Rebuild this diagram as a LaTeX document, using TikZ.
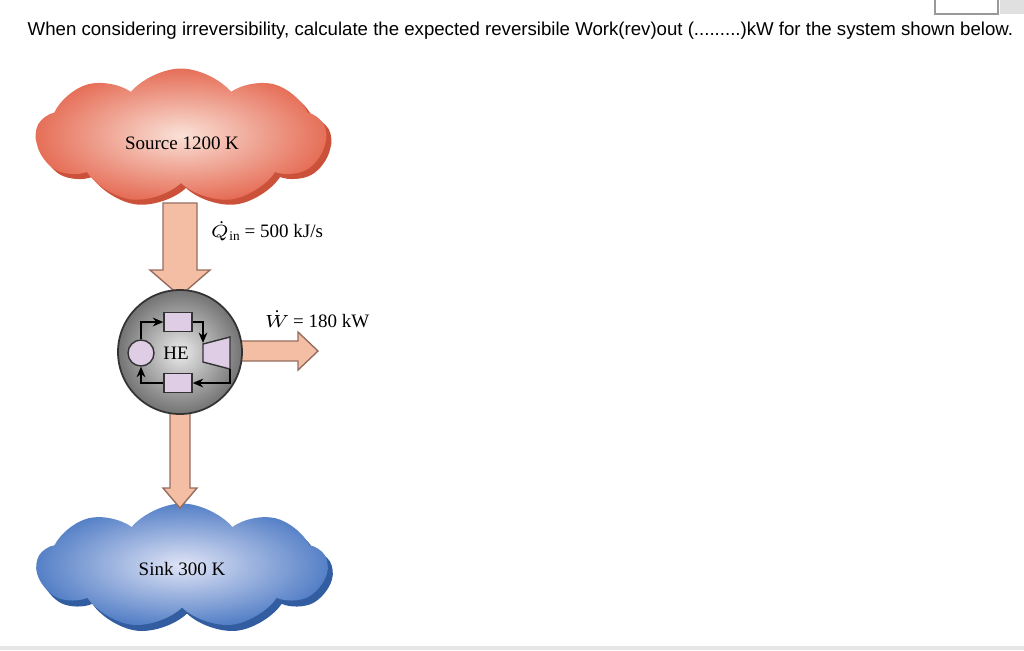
\documentclass[tikz,border=0pt]{standalone}
\usepackage{fontspec}
\setmainfont{Liberation Serif}
\newfontfamily\titlefont{Liberation Sans}
\usetikzlibrary{shapes.symbols,arrows.meta,shapes.arrows}
\definecolor{arr}{RGB}{244,190,165}
\definecolor{arredge}{RGB}{150,110,95}
\definecolor{hot}{RGB}{226,90,65}
\definecolor{hotin}{RGB}{250,225,215}
\definecolor{cold}{RGB}{60,110,190}
\definecolor{coldin}{RGB}{224,228,246}
\definecolor{part}{RGB}{222,205,228}
\newlength\un \setlength\un{0.01cm}
\tikzset{
 cl/.style={cloud, cloud puffs=9, cloud puff arc=100, aspect=2.4, minimum width=290\un, minimum height=135\un},
 partbox/.style={draw=black!80, fill=part, line width=0.4pt},
 flow/.style={draw=arredge, fill=arr, line width=0.4pt},
 thin/.style={-{Stealth[length=3pt,width=2.5pt]}, line width=0.4pt},
 lbl/.style={font=\fontsize{5.4}{6.5}\selectfont}
}
\begin{document}
\begin{tikzpicture}[x=0.01cm,y=-0.01cm]
\useasboundingbox (0,0) rectangle (1024,650);
\fill[white] (0,0) rectangle (1024,650);
% header fragment
\draw[black!40] (935,-2) rectangle (998,14);
\fill[black!12] (1000,-2) rectangle (1024,14);
\node[font=\titlefont\fontsize{5.3}{6.5}\selectfont, anchor=west, inner sep=0] (title) at (27,31) {When considering irreversibility, calculate the expected reversibile Work(rev)out (.........)kW for the system shown below.};
\fill[black!10] (0,646) rectangle (1024,650);
% source cloud
\node[cl, fill=hot!90!black] at (186,141) {};
\node[cl, shade, inner color=hotin, outer color=hot!85!hotin] (src) at (181,136) {};
\node[lbl] (srct) at (182,143) {Source 1200 K};
% sink cloud
\node[cl, fill=cold!85!black, minimum height=125\un] at (187,572) {};
\node[cl, shade, inner color=coldin, outer color=cold!85!coldin, minimum height=125\un] (snk) at (182,566) {};
\node[lbl] (snkt) at (182,569) {Sink 300 K};
% arrows
\draw[flow] (163,203) -- (197,203) -- (197,270) -- (210,270) -- (180,296) -- (150,270) -- (163,270) -- cycle;
\draw[flow] (170,410) -- (190,410) -- (190,488) -- (197,488) -- (180,508) -- (163,488) -- (170,488) -- cycle;
\draw[flow] (236,341) -- (298,341) -- (298,332) -- (318,351) -- (298,370) -- (298,361) -- (236,361) -- cycle;
\node[lbl, anchor=west] (qin) at (198,231) {$\dot{Q}_{\mathrm{in}}$\,= 500 kJ/s};
\node[lbl, anchor=west] (w) at (252,319) {$\dot{W}$\,= 180 kW};
% HE
\node[circle, minimum size=124\un, draw=black!80, line width=0.5pt, shade, inner color=white!92!black, outer color=black!55] (he) at (180,352) {};
\node[circle, partbox, minimum size=26\un, inner sep=0] (pump) at (141,353) {};
\node[partbox, minimum width=28\un, minimum height=19\un, inner sep=0] (top) at (178,322) {};
\node[partbox, minimum width=28\un, minimum height=19\un, inner sep=0] (bot) at (178,383) {};
\draw[partbox] (203,344) -- (230,337) -- (230,369) -- (203,362) -- cycle;
\node[lbl] (het) at (176,353) {HE};
\draw[thin] (pump.north) |- (top.west);
\draw[thin] (top.east) -| (203,343);
\draw[thin] (230,369) |- (bot.east);
\draw[thin] (bot.west) -| (pump.south);
\end{tikzpicture}
\end{document}
